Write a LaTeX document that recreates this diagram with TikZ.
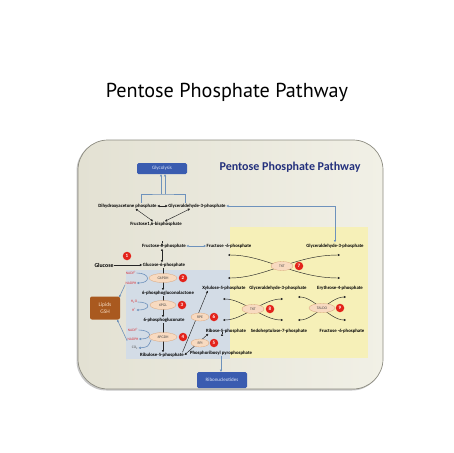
\documentclass[tikz,border=0pt]{standalone}
\usepackage{fontspec}
\setmainfont{Carlito}
\newfontfamily\titlefont{PT Sans}
\usetikzlibrary{arrows.meta,shapes.geometric,calc}
\definecolor{panelL}{HTML}{E3E1D3}
\definecolor{panelR}{HTML}{F1F0E6}
\definecolor{panelline}{HTML}{8C8B80}
\definecolor{yellowbg}{HTML}{F6F0B8}
\definecolor{bluebg}{HTML}{D3DCE6}
\definecolor{boxblue}{HTML}{3A5CB0}
\definecolor{boxtext}{HTML}{DDE6FA}
\definecolor{lipid}{HTML}{A9591F}
\definecolor{lipidtext}{HTML}{F5DCC4}
\definecolor{enzfill}{HTML}{F8DAC0}
\definecolor{enzline}{HTML}{D9A67C}
\definecolor{stepred}{HTML}{E3231B}
\definecolor{navy}{HTML}{23307C}
\definecolor{linkblue}{HTML}{6E92BC}
\definecolor{cofred}{HTML}{D9343A}
\begin{document}
\begin{tikzpicture}[x=1pt,y=-1pt,
  lab/.style={font=\fontsize{4.8}{5}\selectfont\bfseries, inner sep=0.5pt, text=black},
  enz/.style={ellipse, draw=enzline, fill=enzfill, line width=0.3pt, minimum width=26pt, minimum height=9pt, inner sep=0pt, font=\fontsize{3.8}{4}\selectfont, text=black!70},
  stepnum/.style={circle, fill=stepred, text=white, minimum size=8.5pt, inner sep=0pt, font=\fontsize{5}{5}\selectfont\bfseries},
  conn/.style={-{Triangle[length=2.2pt,width=2.2pt]}, line width=0.45pt, black!85},
  twoway/.style={{Triangle[length=2.2pt,width=2.2pt]}-{Triangle[length=2.2pt,width=2.2pt]}, line width=0.45pt, black!85},
  blink/.style={linkblue, line width=0.6pt},
  blinkarrow/.style={blink, -{Triangle[length=2.2pt,width=2.2pt]}},
  blinktwo/.style={blink, {Triangle[length=2.2pt,width=2.2pt]}-{Triangle[length=2.2pt,width=2.2pt]}},
  cof/.style={font=\fontsize{3.6}{4}\selectfont, text=cofred, inner sep=0.3pt},
  bluebox/.style={fill=boxblue, rounded corners=1.5pt, text=boxtext, font=\fontsize{5}{6}\selectfont, inner sep=0pt}
]
\useasboundingbox (0,0) rectangle (453,453);
\fill[white] (0,0) rectangle (453,453);
\node[font=\titlefont\fontsize{20.2}{24}\selectfont] (title) at (227,92) {Pentose Phosphate Pathway};
% panel
\fill[black!22, rounded corners=30pt] (76.5,141) rectangle (382,390.5);
\shade[rounded corners=30pt, left color=panelL, right color=panelR, draw=panelline, line width=0.7pt] (78,140) rectangle (383,389);
\fill[yellowbg] (230,227) rectangle (368,358);
\fill[bluebg] (126,270) rectangle (230,359);
\node[font=\bfseries\fontsize{12}{14}\selectfont, text=navy] (hdr) at (290,167) {Pentose Phosphate Pathway};
\node[bluebox, minimum width=50pt, minimum height=11pt] (glyc) at (162,168.5) {Glycolysis};
% metabolites
\node[lab] (dhap) at (127.5,206) {Dihydroxyacetone phosphate};
\node[lab] (g3pa) at (197,206) {Glyceraldehyde-3-phosphate};
\node[lab] (f16) at (156,224) {Fructose1,6-bisphosphate};
\node[lab] (f6pa) at (164,246) {Fructose-6-phosphate};
\node[lab] (f6pb) at (229,246) {Fructose -6-phosphate};
\node[lab, font=\fontsize{5.8}{6}\selectfont\bfseries] (glc) at (104,265) {Glucose};
\node[lab] (g6p) at (164,265) {Glucose-6-phosphate};
\node[lab] (lac) at (168,293) {6-phosphogluconolactone};
\node[lab] (pgn) at (164,320) {6-phosphogluconate};
\node[lab] (ru5p) at (162,355) {Ribulose-5-phosphate};
\node[lab] (x5p) at (224,288) {Xylulose-5-phosphate};
\node[lab] (r5p) at (226,331) {Ribose-5-phosphate};
\node[lab] (prpp) at (221,353) {Phosphoribosyl pyrophosphate};
\node[lab] (g3pb) at (335,246) {Glyceraldehyde-3-phosphate};
\node[lab] (g3pc) at (278,288) {Glyceraldehyde-3-phosphate};
\node[lab] (e4p) at (340,288) {Erythrose-4-phosphate};
\node[lab] (s7p) at (279,331) {Sedoheptulose-7-phosphate};
\node[lab] (f6pc) at (342,331) {Fructose -6-phosphate};
\node[bluebox, minimum width=50pt, minimum height=16pt] (ribo) at (222,380) {Ribonucleotides};
\node[fill=lipid, rounded corners=2pt, minimum width=30pt, minimum height=23pt, inner sep=0pt, align=center, text=lipidtext, font=\fontsize{5.5}{7}\selectfont] (lip) at (105,308) {Lipids\\GSH};
% cofactors
\node[cof] (nadp1) at (131,273) {NADP\textsuperscript{+}};
\node[cof] (nadph1) at (131,283) {NADPH};
\node[cof] (h2o) at (134,302) {H\textsubscript{2}O};
\node[cof] (hplus) at (134,310) {H\textsuperscript{+}};
\node[cof] (nadp3) at (133,330) {NADP\textsuperscript{+}};
\node[cof] (nadph3) at (133,339) {NADPH};
\node[cof, text=black!70] (co2) at (135,348) {CO\textsubscript{2}};
% upper glycolysis links
\coordinate (br) at (163,194);
\draw[blink] ($(dhap.north)+(13.5,0)$) |- (br) -| ($(g3pa.north)+(-12,0)$);
\draw[blinkarrow] ($(br)+(-2,0)$) -- ($(glyc.south)+(-1,0)$);
\draw[blinkarrow] ($(br)+(2,0)$) -- ($(glyc.south)+(3,0)$);
\draw[twoway] (dhap.east) -- (g3pa.west);
\draw[twoway] ($(f16.north)+(-3,0)$) -- ($(dhap.south)+(8,0)$);
\draw[twoway] ($(f16.north)+(9,0)$) -- ($(g3pa.south)+(-7,0)$);
\draw[conn] ($(f6pa.north)+(-2,0)$) -- ($(f6pa.north)+(-2,0)$ |- f16.south);
\draw[blinktwo, shorten >=1pt] (g3pa.east) -| (g3pb.north);
\draw[blinktwo] (f6pa.east) -- (f6pb.west);
\draw[twoway] ($(f6pa.south)+(-2,0)$) -- ($(g6p.north)+(-2,0)$);
\draw[conn] (glc.east) -- (g6p.west);
% oxidative branch
\coordinate (cx) at (163,0);
\draw[conn] (g6p.south -| cx) -- (lac.north -| cx);
\draw[conn] (lac.south -| cx) -- (pgn.north -| cx);
\draw[conn] (pgn.south -| cx) -- (ru5p.north -| cx);
\draw[blinkarrow] (nadp1.east) .. controls +(14,0) and +(14,0) .. (nadph1.east);
\draw[blinkarrow] (h2o.east) .. controls +(14,0) and +(14,0) .. (hplus.east);
\draw[blinkarrow] (nadp3.east) .. controls +(14,0) and +(14,0) .. (nadph3.east);
\coordinate (co2src) at (151,340);
\draw[blinkarrow] (co2src) .. controls (148,347) .. (co2.east);
\draw[blinkarrow] (nadph1.south west) -- ($(lip.north east)+(-1,1)$);
\draw[blinkarrow] (nadph3.south west) -- ($(lip.south east)+(-3,0)$);
% non-oxidative links
\draw[conn] ($(ru5p.north east)+(-2,0)$) -- ($(x5p.south west)+(6,0)$);
\draw[twoway] ($(r5p.south west)+(3,0)$) -- (ru5p.east);
\draw[conn] ($(r5p.south)+(-4,0)$) -- ($(r5p.south)+(-4,0)$ |- prpp.north);
\draw[blinkarrow] (prpp.south) -- (prpp.south |- ribo.north);
% transketolase / transaldolase crossings
\coordinate (a1) at (228,255); \coordinate (a2) at (340,255);
\coordinate (a3) at (228,278); \coordinate (a4) at (340,278);
\draw[twoway] (a1) .. controls (265,255) and (295,278) .. (a4);
\draw[twoway] (a3) .. controls (265,278) and (295,255) .. (a2);
\coordinate (b1) at (223,299); \coordinate (b2) at (283,299);
\coordinate (b3) at (223,320); \coordinate (b4) at (283,320);
\draw[twoway] (b1) .. controls (243,299) and (263,320) .. (b4);
\draw[twoway] (b3) .. controls (243,320) and (263,299) .. (b2);
\coordinate (c1) at (298,297); \coordinate (c2) at (346,297);
\coordinate (c3) at (298,320); \coordinate (c4) at (346,320);
\draw[twoway] (c1) .. controls (314,297) and (330,320) .. (c4);
\draw[twoway] (c3) .. controls (314,320) and (330,297) .. (c2);
% enzymes
\node[enz, minimum width=28pt] (g6pdh) at (163,278) {G6PDH};
\node[enz] (pgl) at (163,305) {6PGL};
\node[enz, minimum width=28pt] (pgdh) at (163,337) {6PGDH};
\node[enz, minimum width=18pt, minimum height=8pt] (rpe) at (200,317) {RPE};
\node[enz, minimum width=18pt, minimum height=8pt] (rpi) at (200,343) {RPI};
\node[enz, minimum width=22pt] (tkt1) at (282,266) {TKT};
\node[enz, minimum width=22pt] (tkt2) at (253,309) {TKT};
\node[enz] (taldo) at (322,308) {TALDO};
% step numbers
\node[stepnum] (s1) at (127,256) {1};
\node[stepnum] (s2) at (183,278) {2};
\node[stepnum] (s3) at (182,305) {3};
\node[stepnum] (s4) at (183,337) {4};
\node[stepnum] (s5) at (214,343) {5};
\node[stepnum] (s6) at (214,317) {6};
\node[stepnum] (s7) at (299,266) {7};
\node[stepnum] (s8) at (270,309) {8};
\node[stepnum] (s9) at (340,308) {9};
\end{tikzpicture}
\end{document}
